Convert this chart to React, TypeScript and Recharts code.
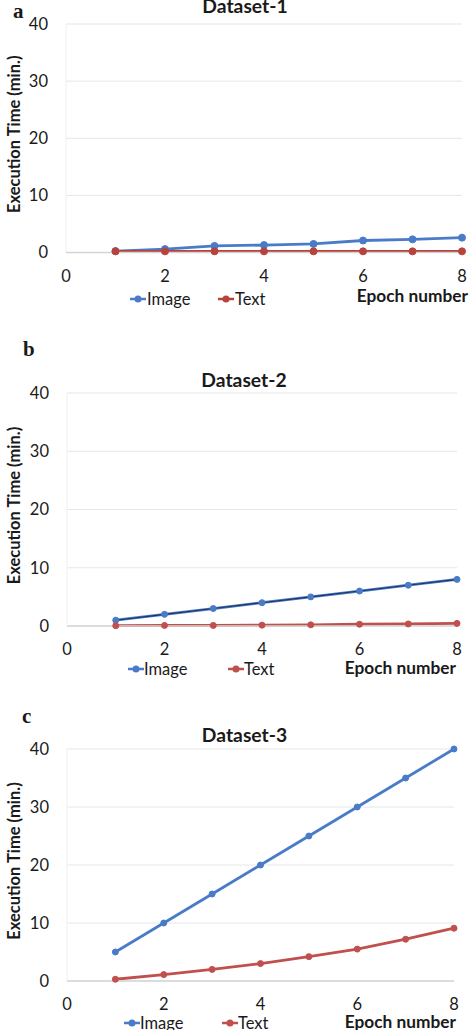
import React from 'react';
import { LineChart, Line, XAxis, YAxis, CartesianGrid, Legend } from 'recharts';

// Epochs on the x axis and shared tick values
const epochs = [1, 2, 3, 4, 5, 6, 7, 8];
const xTicks = [0, 2, 4, 6, 8];
const yTicks = [0, 10, 20, 30, 40];

// Execution time in minutes per epoch
const imageTimes1 = [0.25, 0.6, 1.15, 1.3, 1.5, 2.1, 2.3, 2.6];
const textTimes1 = [0.2, 0.2, 0.2, 0.2, 0.2, 0.2, 0.2, 0.2];

const imageTimes2 = [1, 2, 3, 4, 5, 6, 7, 8];
const textTimes2 = [0.05, 0.1, 0.1, 0.15, 0.2, 0.3, 0.35, 0.45];

const imageTimes3 = [5, 10, 15, 20, 25, 30, 35, 40];
const textTimes3 = [0.3, 1.1, 2.0, 3.0, 4.2, 5.5, 7.2, 9.1];

const FONT = 'Lato, "Open Sans", sans-serif';
const INK = '#1a1a1a';
const BLUE = '#4a7bc8';
const RED = '#c0504d';

const rows = (image: number[], text: number[]) =>
  epochs.map((epoch, i) => ({ epoch, image: image[i], text: text[i] }));

type PanelLayout = {
  top: number;
  height: number;
  margin: { top: number; right: number; left: number; bottom: number };
  yAxisWidth: number;
  letter: string;
  letterX: number;
  letterY: number;
  title: string;
  titleX: number;
  titleY: number;
  legendY: number;
  legendSpots: { marker: number; label: number }[];
  epochRight: number;
  epochBaseline: number;
  red: string;
  dotR: number;
};

const YTitle = (props: any) => {
  const vb = props.viewBox || { x: 0, y: 0, width: 0, height: 0 };
  const cx = 14;
  const cy = vb.y + vb.height / 2 - 4;
  return (
    <text
      x={cx}
      y={cy}
      transform={`rotate(-90 ${cx} ${cy})`}
      textAnchor="middle"
      dominantBaseline="central"
      fontFamily={FONT}
      fontWeight={700}
      fontSize={16.5}
      fill={INK}
    >
      Execution Time (min.)
    </text>
  );
};

const XTitle = (props: any) => (
  <text
    x={props.right}
    y={props.baseline}
    textAnchor="end"
    fontFamily={FONT}
    fontWeight={700}
    fontSize={17.3}
    fill={INK}
  >
    Epoch number
  </text>
);

const LegendRow = (props: any) => {
  const { payload = [], spots } = props;
  return (
    <svg width={474} height={22} style={{ display: 'block', overflow: 'visible' }}>
      {payload.map((item: any, i: number) => {
        const s = spots[i];
        if (!s) return null;
        return (
          <g key={item.value}>
            <line x1={s.marker} y1={11} x2={s.marker + 16} y2={11} stroke={item.color} strokeWidth={2.5} />
            <circle cx={s.marker + 8} cy={11} r={3.5} fill={item.color} />
            <text
              x={s.label}
              y={11}
              dominantBaseline="central"
              fontFamily={FONT}
              fontSize={16.5}
              fill={INK}
            >
              {item.value}
            </text>
          </g>
        );
      })}
    </svg>
  );
};

const Panel = ({
  layout,
  image,
  text,
  overlay,
}: {
  layout: PanelLayout;
  image: number[];
  text: number[];
  overlay?: boolean;
}) => {
  const data = rows(image, text);
  return (
    <div style={{ position: 'absolute', left: 0, top: layout.top, width: 474, height: layout.height }}>
      <LineChart width={474} height={layout.height} data={data} margin={layout.margin}>
        <CartesianGrid horizontal vertical={false} stroke="#e6e6e6" strokeWidth={1} />
        <XAxis
          dataKey="epoch"
          type="number"
          domain={[0, 8]}
          ticks={xTicks}
          tickLine={false}
          tickSize={0}
          tickMargin={17.5}
          height={30}
          axisLine={{ stroke: '#d4d4d4', strokeWidth: 1.5 }}
          tick={{ fontFamily: FONT, fontSize: 16.5, fill: INK }}
          label={<XTitle right={layout.epochRight} baseline={layout.epochBaseline} />}
        />
        <YAxis
          type="number"
          domain={[0, 40]}
          ticks={yTicks}
          width={layout.yAxisWidth}
          tickLine={false}
          tickSize={0}
          tickMargin={18}
          axisLine={{ stroke: '#efefef', strokeWidth: 1 }}
          tick={{ fontFamily: FONT, fontSize: 16.5, fill: INK }}
          label={<YTitle />}
        />
        <Legend
          layout="vertical"
          align="center"
          verticalAlign="middle"
          wrapperStyle={{ left: 0, top: layout.legendY - 11, width: 474, height: 22 }}
          content={<LegendRow spots={layout.legendSpots} />}
        />
        <Line
          dataKey="image"
          name="Image"
          stroke={BLUE}
          strokeWidth={2.8}
          dot={{ r: layout.dotR, fill: BLUE, stroke: BLUE, strokeWidth: 1 }}
          isAnimationActive={false}
        />
        {overlay && (
          <Line
            dataKey="image"
            name="trend"
            stroke="#1f3561"
            strokeWidth={1.1}
            dot={false}
            legendType="none"
            isAnimationActive={false}
          />
        )}
        <Line
          dataKey="text"
          name="Text"
          stroke={layout.red}
          strokeWidth={2.8}
          dot={{ r: layout.dotR, fill: layout.red, stroke: layout.red, strokeWidth: 1 }}
          isAnimationActive={false}
        />
        <text
          x={layout.letterX}
          y={layout.letterY}
          fontFamily='"Liberation Serif", "Times New Roman", serif'
          fontWeight={700}
          fontSize={21}
          fill={INK}
        >
          {layout.letter}
        </text>
        <text
          x={layout.titleX}
          y={layout.titleY}
          textAnchor="middle"
          fontFamily={FONT}
          fontWeight={700}
          fontSize={19.3}
          fill={INK}
        >
          {layout.title}
        </text>
      </LineChart>
    </div>
  );
};

const layoutA: PanelLayout = {
  top: 0,
  height: 312,
  margin: { top: 24, right: 12, left: 0, bottom: 29.5 },
  yAxisWidth: 66,
  letter: 'a',
  letterX: 13,
  letterY: 18,
  title: 'Dataset-1',
  titleX: 245,
  titleY: 13,
  legendY: 299,
  legendSpots: [
    { marker: 130, label: 147 },
    { marker: 218, label: 235 },
  ],
  epochRight: 468,
  epochBaseline: 302,
  red: '#b8433c',
  dotR: 3.5,
};

const layoutB: PanelLayout = {
  top: 330,
  height: 360,
  margin: { top: 63, right: 17, left: 0, bottom: 34 },
  yAxisWidth: 67,
  letter: 'b',
  letterX: 23,
  letterY: 26,
  title: 'Dataset-2',
  titleX: 244,
  titleY: 57,
  legendY: 339,
  legendSpots: [
    { marker: 128, label: 144 },
    { marker: 228, label: 244 },
  ],
  epochRight: 456,
  epochBaseline: 344,
  red: RED,
  dotR: 3,
};

const layoutC: PanelLayout = {
  top: 690,
  height: 340,
  margin: { top: 59, right: 20, left: 0, bottom: 19 },
  yAxisWidth: 67,
  letter: 'c',
  letterX: 22,
  letterY: 33,
  title: 'Dataset-3',
  titleX: 244.5,
  titleY: 52,
  legendY: 333,
  legendSpots: [
    { marker: 124, label: 140 },
    { marker: 222, label: 238 },
  ],
  epochRight: 456,
  epochBaseline: 338,
  red: RED,
  dotR: 3,
};

export default function App() {
  return (
    <div style={{ position: 'absolute', left: 0, top: 0, width: 474, height: 1030, background: '#fff', overflow: 'hidden' }}>
      <Panel layout={layoutA} image={imageTimes1} text={textTimes1} />
      <Panel layout={layoutB} image={imageTimes2} text={textTimes2} overlay />
      <Panel layout={layoutC} image={imageTimes3} text={textTimes3} />
    </div>
  );
}
